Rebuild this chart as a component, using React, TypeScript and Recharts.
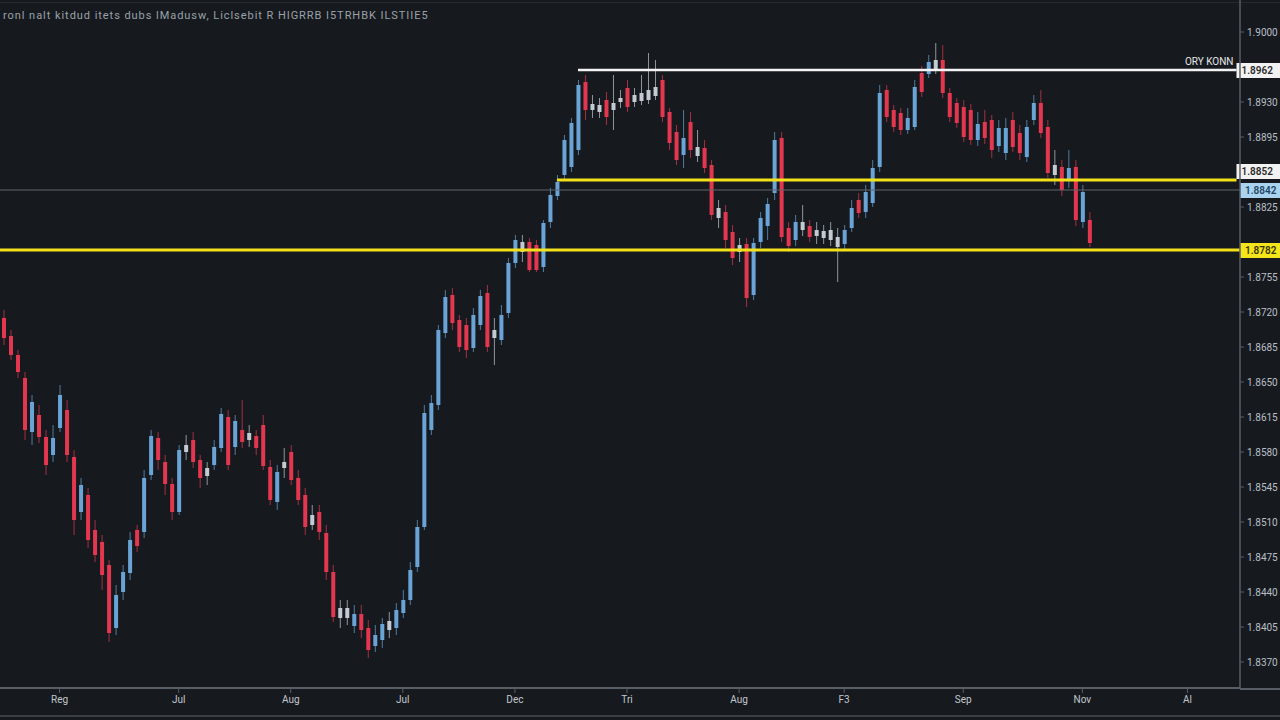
import React from 'react';
import { ComposedChart, Bar, XAxis, YAxis, ReferenceLine } from 'recharts';

// prices are kept in pips: 18712 -> 1.8712
const openPips = [
  18714, 18696, 18677, 18654, 18600, 18617, 18595, 18577, 18604, 18622,
  18575, 18520, 18537, 18502, 18490, 18467, 18404, 18440, 18459, 18502,
  18500, 18557, 18594, 18570, 18548, 18520, 18580, 18592, 18572, 18556,
  18567, 18584, 18615, 18585, 18602, 18592, 18596, 18607, 18565, 18530,
  18564, 18580, 18554, 18537, 18507, 18520, 18499, 18460, 18414, 18424,
  18406, 18418, 18404, 18386, 18392, 18402, 18404, 18419, 18432, 18465,
  18505, 18602, 18627, 18699, 18737, 18712, 18707, 18684, 18707, 18739,
  18694, 18692, 18719, 18769, 18790, 18790, 18787, 18765, 18810, 18836,
  18857, 18865, 18882, 18950, 18928, 18927, 18932, 18922, 18934, 18944,
  18930, 18931, 18932, 18936, 18952, 18920, 18900, 18877, 18910, 18885,
  18884, 18867, 18814, 18820, 18800, 18780, 18788, 18737, 18790, 18806,
  18839, 18894, 18804, 18792, 18810, 18806, 18796, 18801, 18802, 18795,
  18788, 18804, 18832, 18820, 18829, 18865, 18942, 18922, 18919, 18902,
  18905, 18959, 18958, 18962, 18972, 18939, 18929, 18925, 18922, 18892,
  18910, 18912, 18886, 18879, 18912, 18899, 18875, 18912, 18929, 18905,
  18857, 18865, 18852, 18865, 18810, 18812,
];

const closePips = [
  18694, 18677, 18660, 18602, 18630, 18595, 18567, 18594, 18637, 18577,
  18512, 18547, 18492, 18477, 18457, 18399, 18437, 18460, 18492, 18486,
  18554, 18596, 18572, 18548, 18520, 18582, 18587, 18570, 18554, 18564,
  18585, 18618, 18567, 18611, 18590, 18599, 18584, 18566, 18532, 18560,
  18570, 18552, 18532, 18505, 18517, 18500, 18460, 18415, 18424, 18414,
  18418, 18402, 18382, 18397, 18408, 18411, 18422, 18432, 18462, 18505,
  18619, 18629, 18702, 18735, 18709, 18685, 18682, 18717, 18736, 18685,
  18702, 18717, 18769, 18792, 18780, 18762, 18762, 18809, 18837, 18850,
  18892, 18909, 18947, 18922, 18922, 18920, 18915, 18929, 18930, 18925,
  18937, 18939, 18942, 18945, 18915, 18889, 18872, 18894, 18882, 18876,
  18864, 18817, 18824, 18792, 18774, 18787, 18734, 18789, 18814, 18828,
  18892, 18795, 18786, 18810, 18802, 18795, 18802, 18794, 18792, 18785,
  18802, 18824, 18819, 18840, 18864, 18939, 18915, 18905, 18902, 18914,
  18945, 18940, 18970, 18972, 18939, 18915, 18909, 18895, 18892, 18908,
  18894, 18882, 18904, 18904, 18885, 18879, 18905, 18929, 18899, 18859,
  18867, 18842, 18864, 18812, 18840, 18789,
];

const highPips = [
  18722, 18702, 18682, 18660, 18637, 18627, 18602, 18607, 18647, 18632,
  18582, 18554, 18544, 18512, 18497, 18472, 18447, 18467, 18500, 18507,
  18562, 18602, 18600, 18577, 18554, 18587, 18597, 18600, 18577, 18570,
  18592, 18624, 18622, 18617, 18632, 18607, 18602, 18617, 18572, 18567,
  18584, 18587, 18562, 18544, 18527, 18527, 18507, 18467, 18432, 18432,
  18427, 18427, 18412, 18407, 18414, 18420, 18429, 18442, 18470, 18512,
  18627, 18637, 18707, 18742, 18744, 18717, 18714, 18724, 18742, 18747,
  18714, 18727, 18774, 18797, 18797, 18794, 18792, 18812, 18844, 18857,
  18897, 18914, 18952, 18957, 18937, 18934, 18940, 18957, 18942, 18952,
  18944, 18957, 18979, 18972, 18957, 18924, 18907, 18922, 18920, 18902,
  18892, 18872, 18832, 18827, 18807, 18794, 18794, 18794, 18820, 18834,
  18900, 18900, 18810, 18817, 18827, 18812, 18810, 18807, 18810, 18804,
  18807, 18832, 18839, 18847, 18872, 18947, 18947, 18927, 18924, 18924,
  18952, 18966, 18977, 18989, 18987, 18944, 18934, 18932, 18928, 18920,
  18922, 18917, 18912, 18914, 18920, 18907, 18912, 18937, 18942, 18912,
  18882, 18872, 18882, 18872, 18847, 18820,
];

const lowPips = [
  18687, 18672, 18654, 18592, 18587, 18589, 18557, 18570, 18600, 18570,
  18497, 18512, 18484, 18470, 18442, 18390, 18397, 18432, 18452, 18480,
  18494, 18552, 18562, 18537, 18512, 18517, 18572, 18564, 18544, 18547,
  18562, 18580, 18562, 18577, 18584, 18585, 18577, 18562, 18527, 18522,
  18554, 18547, 18527, 18497, 18502, 18492, 18452, 18410, 18404, 18407,
  18399, 18394, 18374, 18380, 18384, 18394, 18397, 18414, 18427, 18460,
  18502, 18597, 18622, 18694, 18702, 18680, 18674, 18680, 18702, 18680,
  18667, 18687, 18714, 18764, 18770, 18760, 18760, 18760, 18804, 18832,
  18852, 18860, 18877, 18912, 18914, 18914, 18907, 18902, 18924, 18920,
  18925, 18927, 18928, 18932, 18910, 18882, 18867, 18864, 18874, 18870,
  18859, 18812, 18804, 18784, 18767, 18770, 18725, 18732, 18784, 18792,
  18832, 18790, 18780, 18786, 18796, 18790, 18788, 18788, 18786, 18750,
  18782, 18800, 18814, 18814, 18825, 18860, 18910, 18900, 18897, 18898,
  18902, 18935, 18954, 18958, 18934, 18910, 18904, 18890, 18887, 18886,
  18888, 18874, 18880, 18872, 18880, 18872, 18870, 18907, 18894, 18854,
  18847, 18836, 18844, 18806, 18804, 18785,
];

// time axis: candle slots incl. empty future space on the right
const slotCount = 177;
const dateTicks = [8, 25, 41, 57, 73, 89, 105, 120, 137, 154, 169];
const dateLabels = ['Reg', 'Jul', 'Aug', 'Jul', 'Dec', 'Tri', 'Aug', 'F3', 'Sep', 'Nov', 'Al'];

// ticks hidden behind the level tags are left out
const priceTicks = [
  19000, 18930, 18895, 18825, 18755, 18720, 18685,
  18650, 18615, 18580, 18545, 18510, 18475, 18440, 18405, 18370,
];
const priceDomain = [18344, 19032];

// horizontal levels
const topLevel = 18962;
const topLevelStart = 82;
const upperLevel = 18852;
const upperLevelStart = 79;
const lastPriceLevel = 18842;
const lowerLevel = 18782;

const headerText = 'ronl nalt kitdud itets dubs lMadusw, Liclsebit  R HIGRRB  I5TRHBK ILSTIIE5';

const RED = '#e3374f';
const BLUE = '#6aa4d6';
const GRAY = '#c3cad2';
const BG = '#161a1f';
const AXIS = '#585e66';

const rows = Array.from({ length: slotCount }, (_, i) =>
  i < openPips.length
    ? { i, open: openPips[i], close: closePips[i], high: highPips[i], low: lowPips[i], range: [lowPips[i], highPips[i]] }
    : { i }
);

const fmt = (v: number) => (v / 10000).toFixed(4);

function Candle(props: any) {
  const { x, y, width, height, payload } = props;
  if (!payload || payload.open == null) return null;
  const { open, close, high, low } = payload;
  const k = height / Math.max(high - low, 1);
  const top = y + (high - Math.max(open, close)) * k;
  const bot = y + (high - Math.min(open, close)) * k;
  const color = Math.abs(open - close) <= 10 ? GRAY : close > open ? BLUE : RED;
  const cx = x + width / 2;
  return (
    <g>
      <line x1={cx} x2={cx} y1={y} y2={y + height} stroke={color} strokeOpacity={0.7} strokeWidth={1} />
      <rect x={x} y={top} width={width} height={Math.max(bot - top, 1.5)} fill={color} />
    </g>
  );
}

function PriceTag(props: any) {
  const { viewBox, price, bg, fg, note, above } = props;
  if (!viewBox) return null;
  const right = viewBox.x + viewBox.width;
  const y = viewBox.y;
  const boxTop = above ? y - 16 : y - 7;
  return (
    <g>
      <rect x={right} y={boxTop} width={46} height={15} fill={bg} />
      <text x={right + 5} y={boxTop + 11} fontSize={10} fill={fg} fontWeight={600}>
        {fmt(price)}
      </text>
      {note ? (
        <text x={right - 3} y={y - 5} fontSize={10} fill="#e6e6e6" textAnchor="end">
          {note}
        </text>
      ) : null}
    </g>
  );
}

export default function App() {
  return (
    <div
      style={{
        position: 'fixed',
        left: 0,
        top: 0,
        width: 1280,
        height: 720,
        background: BG,
        fontFamily: 'Roboto, "Liberation Sans", sans-serif',
        overflow: 'hidden',
      }}
    >
      <div style={{ position: 'absolute', left: 0, right: 0, top: 2, height: 1, background: '#262b31' }} />
      <div
        style={{
          position: 'absolute',
          left: 3,
          top: 9,
          fontSize: 11,
          color: '#9aa1a8',
          whiteSpace: 'nowrap',
          letterSpacing: 0.95,
        }}
      >
        {headerText}
      </div>
      <ComposedChart
        width={1280}
        height={720}
        data={rows}
        margin={{ top: 0, right: 0, bottom: 0, left: 0 }}
        barCategoryGap={0}
      >
        <XAxis
          dataKey="i"
          type="category"
          ticks={dateTicks}
          interval={0}
          height={32}
          tickFormatter={(v: number) => dateLabels[dateTicks.indexOf(v)] ?? ''}
          axisLine={{ stroke: AXIS, strokeWidth: 2 }}
          tickLine={{ stroke: AXIS }}
          tickSize={5}
          tickMargin={3}
          tick={{ fill: '#c2c7cd', fontSize: 10 }}
        />
        <YAxis
          orientation="right"
          type="number"
          width={40}
          domain={priceDomain}
          allowDataOverflow
          ticks={priceTicks}
          interval={0}
          tickFormatter={fmt}
          axisLine={{ stroke: AXIS, strokeWidth: 1.5 }}
          tickLine={{ stroke: AXIS }}
          tickSize={4}
          tickMargin={3}
          tick={{ fill: '#b9bfc6', fontSize: 10 }}
        />
        <Bar dataKey="range" barSize={4} shape={<Candle />} isAnimationActive={false} />
        <ReferenceLine
          y={lastPriceLevel}
          stroke="#5f656c"
          strokeWidth={1}
          label={<PriceTag price={lastPriceLevel} bg="#a9d3ef" fg="#1f4564" />}
        />
        <ReferenceLine
          y={lowerLevel}
          stroke="#f1e01a"
          strokeWidth={3}
          label={<PriceTag price={lowerLevel} bg="#f3e41c" fg="#3a3500" />}
        />
        <ReferenceLine
          segment={[
            { x: upperLevelStart, y: upperLevel },
            { x: slotCount - 1, y: upperLevel },
          ]}
          stroke="#f1e01a"
          strokeWidth={3}
          label={<PriceTag price={upperLevel} bg="#f2f2f2" fg="#2a2a2a" above />}
        />
        <ReferenceLine
          segment={[
            { x: topLevelStart, y: topLevel },
            { x: slotCount - 1, y: topLevel },
          ]}
          stroke="#f3f3f3"
          strokeWidth={2.5}
          label={<PriceTag price={topLevel} bg="#f2f2f2" fg="#2a2a2a" note="ORY KONN" />}
        />
      </ComposedChart>
      <div style={{ position: 'absolute', left: 1240, width: 40, top: 688, height: 2, background: AXIS }} />
      <div style={{ position: 'absolute', left: 0, right: 0, top: 715, height: 2, background: '#3a3f46' }} />
    </div>
  );
}
